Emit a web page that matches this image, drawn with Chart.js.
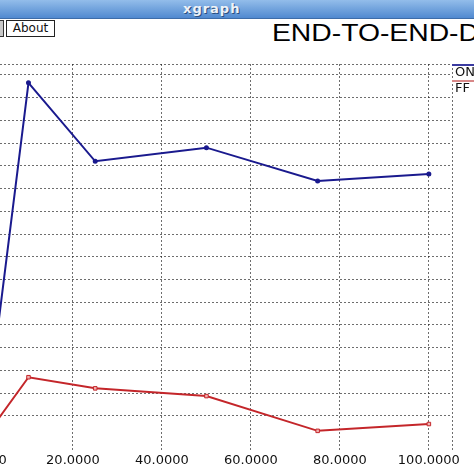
<!DOCTYPE html>
<html>
<head>
<meta charset="utf-8">
<script src="https://cdn.jsdelivr.net/npm/chart.js@4/dist/chart.umd.min.js"></script>
<style>
body { margin: 0; width: 474px; height: 474px; overflow: hidden; background: #fff; position: relative; }
#bar { position: absolute; left: 0; top: 0; width: 474px; height: 18px; background: linear-gradient(#93bdea, #5089d0); border-bottom: 1px solid #3d6ca8; }
#bar span { position: absolute; left: 183px; top: 1px; font: bold 13px 'DejaVu Sans'; color: #eef2f8; letter-spacing: 1px; text-shadow: 1px 1px 0 #2b4f80; }
#prev { position: absolute; left: -20px; top: 20px; width: 22px; height: 15px; background: #c8c8c8; border: 1px solid #333; }
#about { position: absolute; left: 6px; top: 20px; width: 47px; height: 15px; border: 1px solid #222; background: #fff; font: 12px 'DejaVu Sans'; line-height: 15px; text-align: center; color: #111; }
#title { position: absolute; left: 272px; top: 22px; font: 23px 'Liberation Sans'; line-height: 23px; color: #000; white-space: nowrap; transform: scaleX(1.23); transform-origin: left top; }
#wrap { position: absolute; left: -40px; top: 40px; width: 514px; height: 434px; }
</style>
</head>
<body>
<div id="bar"><span>xgraph</span></div>
<div id="prev"></div>
<div id="about">About</div>
<div id="title">END-TO-END-DELAY</div>
<div id="wrap"><canvas id="graph"></canvas></div>
<script>
// data (y in grid units, labels of y axis are cropped away)
const xValues = [0, 10, 25, 50, 75, 100];
const onValues = [0, 15.65, 12.2, 12.8, 11.33, 11.64];
const ffValues = [0, 2.7, 2.21, 1.87, 0.34, 0.64];
const xTicks = [0, 20, 40, 60, 80, 100];
const yGrid = [1, 2, 3, 4, 5, 6, 7, 8, 9, 10, 11, 12, 13, 14, 15, 16];
const xMax = 105.2;
const yMin = -0.59;
const yMax = 16.48;

const toPoints = (ys) => xValues.map((x, i) => ({ x: x, y: ys[i] }));

// legend drawn at the right of the plot, like xgraph does
const sideLegend = {
    id: 'sideLegend',
    afterDraw(chart) {
        const ctx = chart.ctx;
        const left = chart.chartArea.right;
        const top = chart.chartArea.top;
        ctx.save();
        chart.data.datasets.forEach((ds, i) => {
            const y = top + i * 16;
            ctx.strokeStyle = ds.legendLine;
            ctx.lineWidth = 2;
            ctx.beginPath();
            ctx.moveTo(left, y + 1);
            ctx.lineTo(left + 30, y + 1);
            ctx.stroke();
            ctx.fillStyle = '#111';
            ctx.font = '13px "DejaVu Sans"';
            ctx.textBaseline = 'top';
            ctx.fillText(ds.label, left + 3, y + 2);
        });
        ctx.restore();
    }
};

const gridStyle = {
    color: 'rgba(30, 30, 30, 0.65)',
    lineWidth: 1,
    drawTicks: false
};

new Chart(document.getElementById('graph'), {
    type: 'line',
    data: {
        datasets: [{
            label: 'ON',
            data: toPoints(onValues),
            borderColor: '#1a1a8e',
            backgroundColor: '#1a1a8e',
            legendLine: '#3a3aa0',
            borderWidth: 2,
            pointRadius: 1.5,
            pointHoverRadius: 0
        }, {
            label: 'FF',
            data: toPoints(ffValues),
            borderColor: '#c4262a',
            backgroundColor: '#f0b0b0',
            legendLine: '#d88888',
            borderWidth: 2,
            pointStyle: 'rect',
            pointRadius: 2.5,
            pointBorderWidth: 1,
            pointHoverRadius: 0
        }]
    },
    options: {
        responsive: true,
        maintainAspectRatio: false,
        animation: false,
        events: [],
        layout: { padding: { top: 24, right: 22, bottom: 0, left: 0 } },
        plugins: {
            legend: { display: false },
            tooltip: { enabled: false }
        },
        scales: {
            x: {
                type: 'linear',
                min: 0,
                max: xMax,
                afterBuildTicks: (s) => { s.ticks = xTicks.concat([xMax]).map(v => ({ value: v })); },
                afterFit: (s) => { s.height = 22; },
                grid: gridStyle,
                border: { display: false, dash: [2, 2] },
                ticks: {
                    autoSkip: false,
                    maxRotation: 0,
                    padding: 1,
                    color: '#111',
                    font: { family: 'DejaVu Sans', size: 13 },
                    callback: (v) => xTicks.includes(v) ? v.toFixed(4) : ''
                }
            },
            y: {
                type: 'linear',
                min: yMin,
                max: yMax,
                afterBuildTicks: (s) => { s.ticks = yGrid.concat([yMax]).map(v => ({ value: v })); },
                afterFit: (s) => { s.width = 24; },
                grid: gridStyle,
                border: { display: false, dash: [2, 2] },
                ticks: { display: false }
            }
        }
    },
    plugins: [sideLegend]
});
</script>
</body>
</html>
